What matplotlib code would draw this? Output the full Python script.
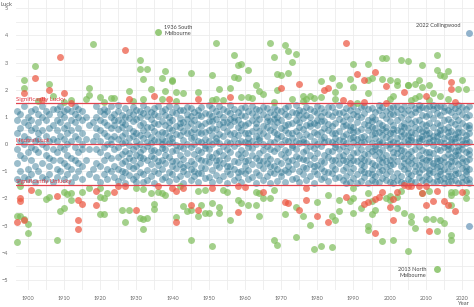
import matplotlib
matplotlib.use("Agg")
import matplotlib.pyplot as plt
from matplotlib.ticker import MultipleLocator

# ---------------- data ----------------
first_year = 1897

# luck values of the "normal" (|luck| < 1.5) team seasons, one string per year
blue_1897_1924 = [
    "-1.3 -0.7 -0.2 0.4 0.9 1.2",
    "-1.0 -0.4 0.1 0.6 1.1 -1.4",
    "-1.2 -0.5 0.0 0.3 0.8 1.4",
    "-0.9 -0.3 0.2 0.7 1.0 -1.3",
    "-1.1 -0.6 -0.1 0.5 1.2 0.9",
    "-1.4 -0.8 -0.2 0.1 0.6 1.3",
    "-1.0 -0.3 0.2 0.4 0.8 1.1",
    "-1.2 -0.7 0.0 0.5 1.0 1.4",
    "-1.3 -0.4 -0.1 0.3 0.9 1.2",
    "-0.8 -0.5 0.1 0.6 1.1 -1.1",
    "-1.4 -0.6 -0.2 0.2 0.7 1.3",
    "-1.2 -0.9 -0.3 0.1 0.5 0.9 1.3",
    "-1.0 -0.6 -0.1 0.3 0.8 1.1 1.4",
    "-1.3 -0.7 -0.2 0.2 0.6 1.0 1.2",
    "-1.1 -0.4 0.0 0.4 0.7 1.3 -0.8",
    "-1.4 -0.9 -0.5 0.1 0.5 0.9 1.2",
    "-1.2 -0.6 -0.1 0.3 0.8 1.1 1.4",
    "-1.0 -0.7 -0.3 0.2 0.6 1.0 1.3",
    "-1.3 -0.8 -0.2 0.0 0.4 0.9 1.2",
    "-0.6 0.2 1.0",
    "-1.1 -0.2 0.7",
    "-0.9 0.1 0.8",
    "-1.2 -0.7 -0.2 0.3 0.6 1.0 1.4",
    "-1.4 -0.8 -0.3 0.1 0.5 0.9 1.2",
    "-1.1 -0.6 -0.1 0.4 0.8 1.1 1.3",
    "-1.3 -0.9 -0.4 0.0 0.3 0.7 1.2",
    "-1.0 -0.5 0.0 0.2 0.6 1.0 1.4",
    "-1.2 -0.8 -0.2 0.3 0.7 0.9 1.1",
]
blue_1925_1955 = [
    "-1.35 -0.92 -0.48 -0.12 0.18 0.55 0.87 1.21 1.42",
    "-1.22 -0.71 -0.38 0.04 0.29 0.63 0.81 1.08 -1.01",
    "-1.44 -1.03 -0.62 -0.24 0.07 0.41 0.72 0.98 1.31",
    "-1.13 -0.79 -0.33 -0.02 0.23 0.58 0.96 1.19 -0.52",
    "-1.28 -0.88 -0.57 -0.19 0.31 0.47 0.83 1.12 1.38",
    "-1.17 -0.82 -0.41 -0.08 0.12 0.39 0.91 1.27 -1.41",
    "-1.04 -0.68 -0.29 0.02 0.34 0.69 1.01 1.23 -0.49",
    "-1.39 -1.09 -0.53 -0.17 0.21 0.52 0.78 1.14 1.44",
    "-1.31 -0.94 -0.59 -0.06 0.09 0.37 0.64 1.03 1.29",
    "-1.19 -0.73 -0.43 0.03 0.27 0.61 0.93 1.18 -0.21",
    "-1.42 -0.98 -0.51 -0.22 0.16 0.49 0.76 1.09 1.33",
    "-1.08 -0.77 -0.31 0.11 0.38 0.72 1.04 1.39 -0.63",
    "-1.27 -0.91 -0.58 -0.13 0.19 0.44 0.84 1.22 0.01",
    "-1.21 -0.69 -0.39 -0.18 0.13 0.42 0.71 1.07 1.28",
    "-1.37 -1.02 -0.47 0.05 0.28 0.59 0.82 0.99 1.41",
    "-1.12 -0.81 -0.27 0.08 0.24 0.53 0.89 1.17 -0.61",
    "-1.29 -0.87 -0.63 -0.21 -0.03 0.36 0.67 1.13 1.37",
    "-1.18 -0.74 -0.42 -0.09 0.32 0.62 0.97 1.26 0.79",
    "-1.43 -0.99 -0.54 -0.16 0.14 0.48 0.81 1.24 -0.84",
    "-1.09 -0.76 -0.34 0.02 0.41 0.66 0.92 1.11 1.36",
    "-1.33 -0.93 -0.61 -0.11 0.22 0.43 0.77 1.02 1.32",
    "-1.16 -0.72 -0.37 -0.01 0.26 0.57 0.88 1.19 -0.98",
    "-1.41 -1.06 -0.52 -0.23 0.11 0.46 0.73 1.08 1.27",
    "-1.07 -0.83 -0.28 0.09 0.39 0.68 1.03 1.38 -0.58",
    "-1.26 -0.89 -0.64 -0.14 0.17 0.43 0.79 1.16 -0.02",
    "-1.23 -0.67 -0.44 -0.19 0.12 0.51 0.86 1.12 1.43",
    "-1.38 -0.97 -0.49 0.01 0.33 0.58 0.84 1.04 1.31",
    "-1.14 -0.78 -0.32 0.12 0.21 0.54 0.94 1.23 -0.59",
    "-1.32 -0.86 -0.57 -0.24 0.03 0.38 0.74 1.09 1.39",
    "-1.19 -0.71 -0.41 -0.07 0.29 0.63 0.99 1.29 0.82",
    "-1.44 -1.01 -0.53 -0.17 0.08 0.47 0.81 1.22 -0.79",
]
blue_1956_1986 = [
    "-1.11 -0.79 -0.29 0.04 0.37 0.69 0.91 1.13 1.42",
    "-1.34 -0.92 -0.62 -0.09 0.19 0.41 0.83 1.01 1.28",
    "-1.22 -0.66 -0.38 0.03 0.32 0.61 0.87 1.18 -1.04",
    "-1.39 -0.99 -0.47 -0.21 0.13 0.52 0.72 1.07 1.34",
    "-1.06 -0.81 -0.33 0.09 0.42 0.71 1.02 1.37 -0.62",
    "-1.28 -0.94 -0.59 -0.12 0.23 0.39 0.78 1.21 0.04",
    "-1.21 -0.73 -0.42 -0.16 0.11 0.48 0.89 1.14 1.41",
    "-1.42 -1.03 -0.51 0.02 0.31 0.62 0.79 1.02 1.29",
    "-1.13 -0.77 -0.34 0.14 0.22 0.49 0.93 1.24 -0.57",
    "-1.31 -0.88 -0.61 -0.22 0.01 0.41 0.68 1.12 1.37",
    "-1.17 -0.69 -0.44 -0.06 0.28 0.64 0.98 1.31 0.84",
    "-1.43 -1.04 -0.56 -0.19 0.09 0.52 0.84 1.19 -0.82",
    "-1.08 -0.82 -0.26 0.06 0.43 0.67 0.91 1.09 1.38",
    "-1.36 -0.91 -0.63 -0.13 0.21 0.38 0.81 0.99 1.26",
    "-1.19 -0.68 -0.36 0.01 0.29 0.59 0.88 1.22 -1.02",
    "-1.41 -0.96 -0.48 -0.23 0.14 0.53 0.71 1.11 1.33",
    "-1.04 -0.79 -0.31 0.11 0.39 0.73 1.04 1.39 -0.61",
    "-1.27 -0.93 -0.58 -0.11 0.24 0.42 0.76 1.18 -0.03",
    "-1.24 -0.72 -0.43 -0.18 0.13 0.47 0.87 1.16 1.44",
    "-1.38 -1.01 -0.52 0.03 0.34 0.61 0.82 1.06 1.27",
    "-1.12 -0.84 -0.29 0.09 0.19 0.56 0.96 1.21 -0.54",
    "-1.33 -0.87 -0.59 -0.21 0.04 0.36 0.69 1.08 1.36",
    "-1.16 -0.74 -0.39 -0.08 0.31 0.66 1.01 1.28 0.78",
    "-1.42 -0.98 -0.51 -0.14 0.11 0.44 0.79 1.23 -0.81",
    "-1.09 -0.76 -0.32 0.02 0.38 0.71 0.89 1.14 1.41",
    "-1.29 -0.89 -0.64 -0.07 0.17 0.43 0.84 1.03 1.31",
    "-1.23 -0.67 -0.41 0.06 0.27 0.58 0.86 1.19 -0.99",
    "-1.37 -1.02 -0.49 -0.24 0.12 0.51 0.74 1.09 1.35",
    "-1.07 -0.82 -0.27 0.08 0.41 0.68 1.03 1.36 -0.59",
    "-1.26 -0.92 -0.57 -0.12 0.21 0.39 0.77 1.17 0.02",
    "-1.21 -0.71 -0.44 -0.17 0.14 0.49 0.92 1.13 1.43",
]
blue_1987_2004 = [
    "-1.31 -0.97 -0.58 -0.41 0.12 0.29 0.66 0.84 1.18 -0.06",
    "-1.18 -0.83 -0.24 0.03 0.38 0.71 1.02 1.33 -1.44 -0.61",
    "-1.39 -0.71 -0.47 -0.12 0.21 0.52 0.93 1.26 0.68 -1.02",
    "-1.26 -0.89 -0.33 0.08 0.44 0.61 1.09 1.41 -0.57 0.27",
    "-1.12 -0.64 -0.28 0.17 0.49 0.81 1.23 -1.42 -0.03 1.04",
    "-1.36 -0.96 -0.51 -0.19 0.26 0.57 0.98 1.37 0.09 -0.73",
    "-1.21 -0.82 -0.37 0.06 0.31 0.74 1.14 -0.58 1.39 -1.03",
    "-1.44 -1.08 -0.62 -0.14 0.19 0.53 0.88 1.29 -0.36 0.71",
    "-1.33 -0.91 -0.69 -0.26 0.04 0.36 0.62 1.01 1.34 -1.11 0.83",
    "-1.17 -0.78 -0.42 -0.07 0.24 0.58 0.91 1.19 -1.39 0.41 -0.18",
    "-1.41 -1.02 -0.54 -0.31 0.13 0.46 0.79 1.27 -0.81 0.02 1.43",
    "-1.26 -0.66 -0.21 0.09 0.33 0.69 1.06 1.38 -0.94 -0.47 0.57",
    "-1.09 -0.86 -0.39 -0.02 0.27 0.63 0.97 1.22 -1.31 0.49 -0.61",
    "-1.38 -0.99 -0.57 -0.16 0.18 0.42 0.86 1.31 -0.77 0.01 1.12",
    "-1.23 -0.74 -0.29 0.06 0.39 0.71 1.09 -1.44 -0.48 0.54 1.36",
    "-1.34 -1.06 -0.62 -0.13 0.21 0.52 0.88 1.17 -0.34 0.04 1.41",
    "-1.16 -0.81 -0.44 -0.04 0.29 0.66 0.99 1.29 -1.38 0.47 -0.23",
    "-1.42 -0.93 -0.52 -0.24 0.12 0.37 0.79 1.14 -0.71 0.61 1.39",
]
blue_2005_2022 = [
    "-1.29 -0.87 -0.36 0.02 0.33 0.58 0.94 1.24 -0.63 -1.07 0.16",
    "-1.13 -0.69 -0.27 0.14 0.44 0.76 1.11 1.42 -1.36 -0.48 0.27",
    "-1.39 -1.01 -0.59 -0.18 0.07 0.41 0.83 1.19 -0.79 0.62 1.33",
    "-1.21 -0.77 -0.41 -0.06 0.24 0.57 0.89 1.28 -1.03 0.11 1.43",
    "-1.33 -0.92 -0.53 -0.22 0.19 0.48 0.74 1.08 -0.66 0.31 1.37",
    "-1.17 -0.84 -0.31 0.03 0.36 0.69 1.03 1.34 -1.41 -0.57 0.51",
    "-1.27 -0.96 -0.62 -0.28 0.09 0.41 0.77 1.12 1.39 -0.46 0.23 -1.08",
    "-1.41 -1.04 -0.69 -0.34 -0.02 0.31 0.64 0.97 1.28 -0.82 0.16 1.43",
    "-1.19 -0.86 -0.51 -0.17 0.12 0.46 0.79 1.14 1.36 -1.37 -0.63 0.28",
    "-1.33 -0.98 -0.57 -0.23 0.07 0.38 0.71 1.06 1.41 -0.79 0.53 -1.12",
    "-1.24 -0.91 -0.46 -0.12 0.22 0.54 0.87 1.21 -1.42 -0.66 0.03 1.37",
    "-1.38 -1.01 -0.72 -0.37 -0.04 0.29 0.61 0.93 1.26 -0.19 0.44 -1.16",
    "-1.16 -0.82 -0.49 -0.14 0.17 0.48 0.82 1.17 1.39 -1.36 -0.61 0.06",
    "-1.31 -0.94 -0.63 -0.26 0.06 0.36 0.73 1.04 1.32 -1.09 0.21 -0.42",
    "-1.43 -1.07 -0.74 -0.39 -0.08 0.26 0.58 0.89 1.23 -0.21 0.44 1.42",
    "-1.21 -0.87 -0.53 -0.18 0.14 0.43 0.76 1.11 1.36 -1.39 -0.66 0.02",
    "-1.34 -0.99 -0.62 -0.29 0.03 0.34 0.67 0.98 1.29 -0.83 0.19 -1.12",
    "-1.27 -0.91 -0.56 -0.21 0.09 0.39 0.71 1.06 1.41 -1.43 -0.38 0.58",
]

# significant-luck seasons (green)
green_years = [
    1899, 1899, 1902, 1906, 1907, 1903, 1910, 1912, 1916, 1917, 1917, 1918, 1920, 1921, 1923, 1924, 1928, 1929,
    1931, 1931, 1932, 1933, 1934, 1937, 1938, 1940, 1940, 1932, 1937, 1941, 1951, 1952, 1954, 1938, 1941, 1943,
    1947, 1953, 1956, 1945, 1951, 1957, 1958, 1952, 1957, 1958, 1959,
    1961, 1967, 1971, 1972, 1974, 1968, 1973, 1990, 1963, 1964, 1965, 1961, 1962, 1969, 1970, 1972, 1969, 1981,
    1984, 1986, 1989, 1978, 1977, 1976, 1979, 1981, 1985, 1985, 1973, 1968, 1976, 1959,
    2013, 1998, 1999, 2003, 2005, 2009, 1994, 1995, 1994, 1998, 2000, 2002, 2002, 2005, 2005, 2007, 2008, 2013,
    2014, 2015, 2016, 2020, 2019, 2021, 2012, 2014, 2011, 2009, 2008, 2007, 1994, 1990, 2000, 2001, 2006, 2011,
    2016, 1991,
    1903, 1906, 1905, 1910, 1911, 1915, 1917, 1920, 1920, 1921, 1922, 1910, 1909, 1912, 1912, 1920, 1921, 1900,
    1900, 1908, 1926, 1928, 1927, 1898, 1899, 1897, 1897, 1898,
    1930, 1932, 1934, 1936, 1937, 1938, 1942, 1947, 1949, 1954, 1955, 1958, 1959, 1941, 1932, 1931, 1932, 1943,
    1944, 1945, 1948, 1949, 1950, 1947, 1951, 1953, 1953, 1956, 1945, 1951, 1935, 1935, 1933,
    1961, 1963, 1963, 1964, 1965, 1967, 1968, 1964, 1971, 1974, 1976, 1978, 1980, 1983, 1984, 1986, 1986, 1989,
    1990, 1968, 1969, 1974, 1979, 1981, 1984, 1985,
    1990, 1994, 1995, 1999, 2000, 2000, 2002, 2003, 2009, 2011, 2017, 2017, 2018, 2021, 2021, 1990, 1992, 1995,
    1996, 2002, 2004, 2006, 2006, 2007, 2010, 2012, 2014, 2015, 2017, 1994, 1994, 2013, 2017, 2017, 1998, 2001,
    2005,
]
green_luck = [
    2.34, 2.07, 2.87, 2.22, 1.76, 1.60, 1.55, 1.62, 1.65, 2.08, 1.80, 3.68, 1.73, 1.55, 1.70, 1.70, 1.97, 1.60,
    3.10, 2.77, 2.38, 2.75, 2.04, 2.44, 2.67, 2.37, 2.31, 1.67, 1.64, 1.57, 1.61, 1.67, 1.61, 1.95, 1.92, 1.88,
    1.92, 2.04, 2.06, 2.61, 2.53, 2.47, 2.44, 3.71, 3.28, 2.92, 2.95,
    2.74, 3.71, 3.63, 3.44, 3.32, 3.22, 3.01, 2.95, 2.16, 1.94, 1.83, 1.73, 1.70, 2.59, 2.55, 2.63, 1.98, 2.32,
    2.44, 2.16, 2.38, 1.76, 1.67, 1.76, 1.71, 1.73, 1.92, 1.67, 1.64, 1.55, 1.57, 1.73,
    3.28, 3.16, 3.16, 3.08, 3.05, 2.92, 2.95, 2.43, 2.34, 2.41, 2.34, 2.31, 2.16, 2.19, 2.16, 2.22, 2.34, 2.71,
    2.53, 2.49, 2.69, 2.34, 2.01, 2.04, 1.86, 1.76, 2.16, 2.10, 1.76, 1.70, 1.86, 2.10, 1.67, 1.76, 1.61, 1.61,
    1.64, 1.51,
    -1.75, -1.93, -2.01, -1.77, -1.84, -1.75, -1.62, -1.62, -1.93, -1.99, -1.81, -2.36, -2.45, -2.05, -1.81, -2.58, -2.58, -2.93,
    -3.29, -3.52, -2.42, -2.42, -2.87, -2.64, -2.76, -2.66, -3.61, -1.56,
    -1.60, -1.65, -1.81, -1.75, -1.81, -1.89, -1.53, -1.71, -1.68, -1.68, -1.77, -2.05, -2.17, -2.68, -2.76, -2.72, -3.12, -2.29,
    -2.45, -2.44, -2.23, -2.52, -2.54, -2.66, -2.17, -2.33, -2.54, -2.78, -3.52, -3.76, -2.20, -2.40, -2.72,
    -2.26, -2.23, -1.75, -1.81, -1.97, -1.99, -1.68, -2.66, -2.58, -2.32, -2.63, -2.99, -2.15, -1.87, -2.64, -2.48, -2.05, -2.11,
    -1.99, -3.54, -3.72, -3.42, -3.86, -3.76, -3.78, -2.78,
    -1.62, -1.81, -2.11, -1.99, -2.05, -1.90, -1.93, -1.72, -1.81, -1.71, -1.78, -1.87, -1.76, -1.75, -1.99, -2.54, -2.36, -2.58,
    -2.42, -2.36, -2.54, -2.66, -2.88, -3.09, -2.76, -2.76, -2.78, -2.90, -2.23, -3.00, -3.15, -3.21, -3.33, -3.54, -3.58, -3.52,
    -3.92,
]

# second group of significant seasons (red)
red_years = [
    1899, 1902, 1906, 1909, 1910, 1927, 1912, 1904, 1928, 1935, 1939, 1947, 1956, 1975, 1970, 1982, 1983, 1988,
    1987, 1989, 1991, 1996, 1993, 1999, 2004, 2010, 2017, 2017, 1999, 2018, 1993,
    1901, 1898, 1898, 1908, 1914, 1915, 1919, 1919, 1914, 1914, 1924, 1925, 1927, 1899, 1897, 1936, 1940, 1941,
    1943, 1951, 1958, 1930, 1941, 1945, 1947, 1958, 1960, 1965, 1977, 1977, 1971, 1972, 1975, 1980, 1983, 1988,
    2004, 2005, 2006, 2008, 2010, 2009, 1998, 2002, 1994, 1993, 1997, 1996, 2000, 2001, 2013, 2020, 2012, 2015,
    2016, 2018, 2001, 1996, 2011, 2010,
]
red_luck = [
    1.88, 2.43, 2.00, 3.22, 1.86, 3.47, 1.51, 1.61, 1.66, 1.76, 1.64, 1.67, 1.73, 2.22, 2.06, 1.98, 2.06, 3.72,
    1.61, 1.51, 2.56, 2.65, 2.34, 2.12, 1.92, 1.76, 2.28, 2.04, 1.51, 1.55, 1.55,
    -1.68, -1.99, -2.11, -1.90, -2.05, -2.19, -1.71, -2.25, -2.78, -3.12, -1.77, -1.53, -1.53, -2.78, -2.87, -1.53, -1.62, -1.72,
    -1.60, -1.62, -1.56, -2.42, -2.87, -2.26, -2.42, -2.50, -1.59, -1.77, -1.62, -2.05, -2.15, -2.17, -2.42, -2.66, -2.87, -1.93,
    -1.50, -1.53, -1.53, -1.53, -1.53, -1.81, -1.77, -1.75, -2.15, -2.20, -1.93, -2.03, -2.32, -2.01, -1.71, -1.78, -2.11, -2.09,
    -2.23, -2.48, -2.80, -3.27, -3.21, -2.23,
]

# highlighted / annotated seasons
hl_years = [1936, 2013, 2022, 2022]
hl_luck = [4.11, -4.59, 4.08, -3.03]
hl_kind = ["green", "green", "hl", "hl"]
hl_labels = ["1936 South\nMelbourne", "2013 North\nMelbourne", "2022 Collingwood", ""]

ref_values = [1.5, 0.0, -1.5]
ref_labels = ["Significantly Lucky", "Neutral Luck", "Significantly Unlucky"]

x_ticks = list(range(1900, 2021, 10))
y_ticks = list(range(-5, 6))

# ---------------- plot ----------------
plt.rcParams["font.family"] = ["Lato", "DejaVu Sans"]

W, H = 474, 307
fig = plt.figure(figsize=(W / 100, H / 100), dpi=100)
ax = fig.add_axes([16 / W, 17 / H, 1 - 16 / W, 290 / H])

blue_rows = blue_1897_1924 + blue_1925_1955 + blue_1956_1986 + blue_1987_2004 + blue_2005_2022
bx, by = [], []
for i, row in enumerate(blue_rows):
    vals = [float(v) for v in row.split()]
    bx += [first_year + i] * len(vals)
    by += vals

BLUE = "#2c7491"
GREEN = "#7dbd5a"
RED = "#ec5842"
S = 25

ax.scatter(bx, by, s=S, color=BLUE, alpha=0.47, linewidths=0, zorder=2, clip_on=False)
ax.scatter(green_years, green_luck, s=S, color=GREEN, alpha=0.7, linewidths=0, zorder=2, clip_on=False)
ax.scatter(red_years, red_luck, s=S, color=RED, alpha=0.72, linewidths=0, zorder=2, clip_on=False)

for yr, lv, kind, lab in zip(hl_years, hl_luck, hl_kind, hl_labels):
    col = GREEN if kind == "green" else "#7fa6c4"
    ax.scatter([yr], [lv], s=S, color=col, alpha=0.8 if kind == "green" else 0.85,
               linewidths=0, zorder=3, clip_on=False)

# annotations
txt_kw = dict(fontsize=4.0, color="#444444", zorder=5, linespacing=1.35)
ax.annotate(hl_labels[0], (hl_years[0], hl_luck[0]), xytext=(4.5, 1.5),
            textcoords="offset points", ha="left", va="center", **txt_kw)
ax.annotate(hl_labels[1], (hl_years[1], hl_luck[1]), xytext=(-7.5, -2.5),
            textcoords="offset points", ha="right", va="center", **txt_kw)
ax.annotate(hl_labels[2], (hl_years[2], hl_luck[2]), xytext=(-6.5, 5.5),
            textcoords="offset points", ha="right", va="center", **txt_kw)

# reference lines
for v, lab in zip(ref_values, ref_labels):
    ax.axhline(v, color="#e2434f", lw=0.9, zorder=4)
    ax.text(0.001, v + 0.03, lab, transform=ax.get_yaxis_transform(), ha="left",
            va="bottom", fontsize=4.3, color="#e2303c", zorder=5)

ax.set_xlim(1896.8, 2023.3)
ax.set_ylim(-5.37, 5.3)
ax.set_xticks(x_ticks)
ax.set_yticks(y_ticks)
ax.xaxis.set_minor_locator(MultipleLocator(5))
ax.yaxis.set_minor_locator(MultipleLocator(0.5))
ax.grid(which="both", color="#ececec", lw=0.6, zorder=0)
ax.set_axisbelow(True)
for sp in ax.spines.values():
    sp.set_visible(False)
ax.tick_params(which="both", length=0)
ax.tick_params(axis="x", labelsize=4.0, labelcolor="#666666", pad=4)
ax.tick_params(axis="y", labelsize=4.0, labelcolor="#666666", pad=6)

fig.text(0.002, 0.992, "Luck", fontsize=4.2, color="#555555", ha="left", va="top")
fig.text(0.977, 0.003, "Year", fontsize=4.2, color="#555555", ha="center", va="bottom")

fig.savefig("out.png", dpi=100)
